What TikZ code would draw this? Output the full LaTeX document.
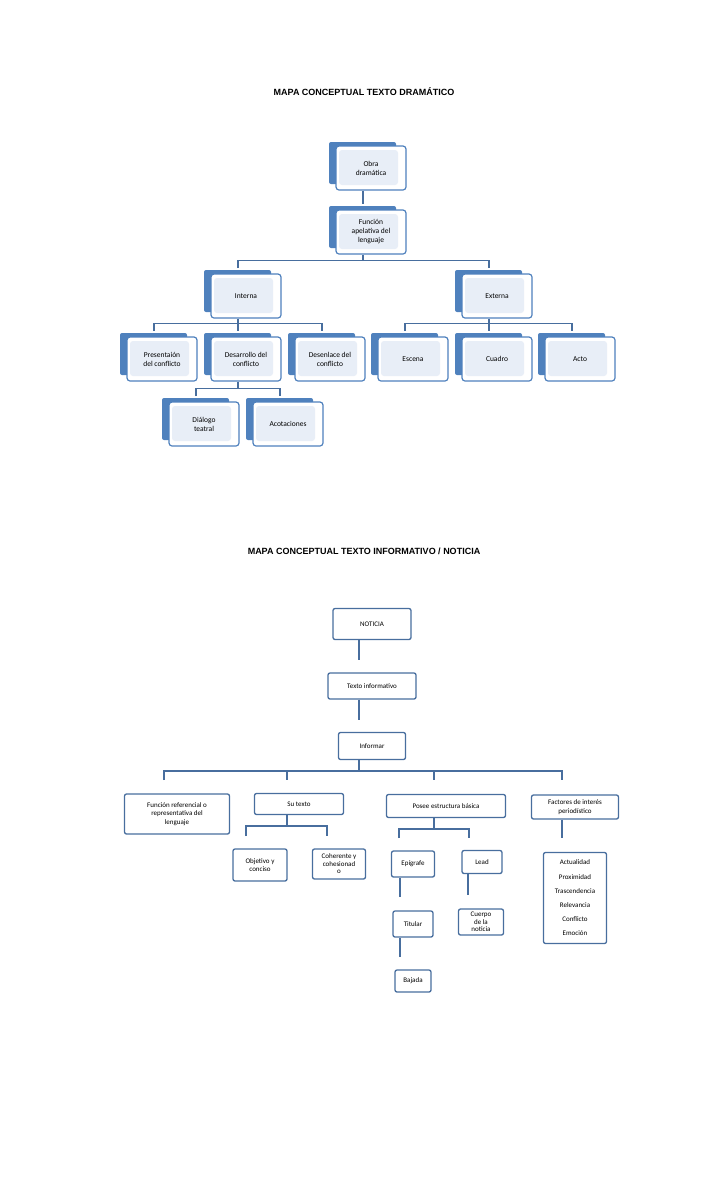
\documentclass[tikz,border=0pt]{standalone}
\usepackage{fontspec}
\setmainfont{Carlito}
\newfontfamily\titlefont{Liberation Sans}
\usetikzlibrary{positioning}
\definecolor{boxblue}{RGB}{79,129,189}
\definecolor{linkblue}{RGB}{72,110,158}
\definecolor{paleblue}{RGB}{232,238,247}
\tikzset{
    back/.style={fill=boxblue, rounded corners=2pt, inner sep=0pt},
    front/.style={draw=boxblue, line width=1.2pt, fill=white, rounded corners=3pt,
        minimum width=70pt, minimum height=44pt, align=center, font=\fontsize{7.5}{9}\selectfont,
        path picture={\fill[paleblue] ([xshift=-8pt,yshift=-4pt]path picture bounding box.north east) rectangle ([xshift=3pt,yshift=5pt]path picture bounding box.south west);}},
    leaf/.style={draw=linkblue, line width=1.3pt, fill=white, rounded corners=2pt,
        inner sep=1pt, align=center, font=\fontsize{7}{8.5}\selectfont},
    link/.style={draw=linkblue, line width=1.6pt},
    titl/.style={font=\titlefont\bfseries\fontsize{9}{11}\selectfont}
}
% double box: back plate then front node
\newcommand{\dbox}[3]{%
    \fill[back] ($(#2)+(-42pt,-22pt)$) rectangle ($(#2)+(25pt,20pt)$);
    \node[front] (#1) at ($(#2)+(0pt,-6pt)$) {#3};
    \coordinate (#1B) at ($(#2)+(-8pt,22pt)$);}
\usetikzlibrary{calc}
\begin{document}
\begin{tikzpicture}[x=1pt,y=-1pt]
    \useasboundingbox (0,0) rectangle (728,1200);
    \node[titl] (t1) at (364,92) {MAPA CONCEPTUAL TEXTO DRAMÁTICO};
    \node[titl] (t2) at (364,551) {MAPA CONCEPTUAL TEXTO INFORMATIVO / NOTICIA};

    % texto dramatico
    \dbox{obra}{371,162}{Obra\\dramática}
    \dbox{func}{371,226}{Función\\apelativa del\\lenguaje}
    \dbox{inte}{246,290}{Interna}
    \dbox{exte}{497,290}{Externa}
    \dbox{pres}{162,353}{Presentaión\\del conflicto}
    \dbox{desa}{246,353}{Desarrollo del\\conflicto}
    \dbox{dese}{330,353}{Desenlace del\\conflicto}
    \dbox{esce}{413,353}{Escena}
    \dbox{cuad}{497,353}{Cuadro}
    \dbox{acto}{580,353}{Acto}
    \dbox{dial}{204,418}{Diálogo\\teatral}
    \dbox{acot}{288,418}{Acotaciones}

    \draw[link, line width=1.2pt] (obra.south -| obraB) -- (funcB);
    \draw[link, line width=1.2pt] (func.south -| funcB) -- ++(0,6) coordinate (b1);
    \draw[link, line width=1.2pt] (inteB) |- (b1) -| (exteB);
    \draw[link, line width=1.2pt] (inte.south -| inteB) -- ++(0,5) coordinate (b2);
    \draw[link, line width=1.2pt] (presB) |- (b2) -| (deseB);
    \draw[link, line width=1.2pt] (b2) -- (desaB);
    \draw[link, line width=1.2pt] (exte.south -| exteB) -- ++(0,5) coordinate (b3);
    \draw[link, line width=1.2pt] (esceB) |- (b3) -| (actoB);
    \draw[link, line width=1.2pt] (b3) -- (cuadB);
    \draw[link, line width=1.2pt] (desa.south -| desaB) -- ++(0,7) coordinate (b4);
    \draw[link, line width=1.2pt] (dialB) |- (b4) -| (acotB);

    % texto informativo
    \node[leaf, minimum width=78pt, minimum height=31pt] (noti) at (372,624) {NOTICIA};
    \node[leaf, minimum width=88pt, minimum height=26pt] (texi) at (372,686) {Texto informativo};
    \node[leaf, minimum width=67pt, minimum height=27pt] (info) at (372,746) {Informar};
    \node[leaf, minimum width=105pt, minimum height=40pt] (fref) at (177,814) {Función referencial o\\representativa del\\lenguaje};
    \node[leaf, minimum width=89pt, minimum height=21pt] (sute) at (299,804) {Su texto};
    \node[leaf, minimum width=119pt, minimum height=23pt] (pose) at (446,806) {Posee estructura básica};
    \node[leaf, minimum width=87pt, minimum height=24pt] (fact) at (575,807) {Factores de interés\\periodístico};
    \node[leaf, minimum width=54pt, minimum height=32pt] (obje) at (260,865) {Objetivo y\\conciso};
    \node[leaf, minimum width=53pt, minimum height=30pt, font=\fontsize{7}{7.5}\selectfont] (cohe) at (339,864) {Coherente y\\cohesionad\\o};
    \node[leaf, minimum width=43pt, minimum height=26pt] (epig) at (413,864) {Epígrafe};
    \node[leaf, minimum width=40pt, minimum height=23pt] (lead) at (482,862) {Lead};
    \node[leaf, minimum width=40pt, minimum height=26pt] (titu) at (413,924) {Titular};
    \node[leaf, minimum width=36pt, minimum height=22pt] (baja) at (413,981) {Bajada};
    \node[leaf, minimum width=45pt, minimum height=26pt, font=\fontsize{7}{7.5}\selectfont] (cuer) at (481,922) {Cuerpo\\de la\\noticia};
    \node[leaf, minimum width=63pt, minimum height=91pt, font=\fontsize{7}{14.2}\selectfont] (fint) at (575,898) {Actualidad\\Proximidad\\Trascendencia\\Relevancia\\Conflicto\\Emoción};

    \coordinate (c1) at (359,660);
    \coordinate (c2) at (359,720);
    \draw[link] (noti.south -| c1) -- (c1);
    \draw[link] (texi.south -| c2) -- (c2);
    \draw[link] (info.south -| c2) -- ++(0,11) coordinate (m1);
    \coordinate (d1) at (164,780); \coordinate (d2) at (287,780);
    \coordinate (d3) at (434,780); \coordinate (d4) at (562,780);
    \draw[link] (d1) |- (m1) -| (d4);
    \draw[link] (m1 -| d2) -- (d2);
    \draw[link] (m1 -| d3) -- (d3);
    \coordinate (e1) at (246,836); \coordinate (e2) at (327,836);
    \draw[link] (sute.south -| d2) -- ++(0,11) coordinate (m2);
    \draw[link] (e1) |- (m2) -| (e2);
    \coordinate (f1) at (399,838); \coordinate (f2) at (469,838);
    \draw[link] (pose.south -| d3) -- ++(0,11) coordinate (m3);
    \draw[link] (f1) |- (m3) -| (f2);
    \coordinate (g1) at (400,897); \coordinate (g2) at (400,957);
    \draw[link] (epig.south -| g1) -- (g1);
    \draw[link] (titu.south -| g2) -- (g2);
    \coordinate (g3) at (468,895);
    \draw[link] (lead.south -| g3) -- (g3);
    \coordinate (g4) at (562,838);
    \draw[link] (fact.south -| g4) -- (g4);
\end{tikzpicture}
\end{document}
